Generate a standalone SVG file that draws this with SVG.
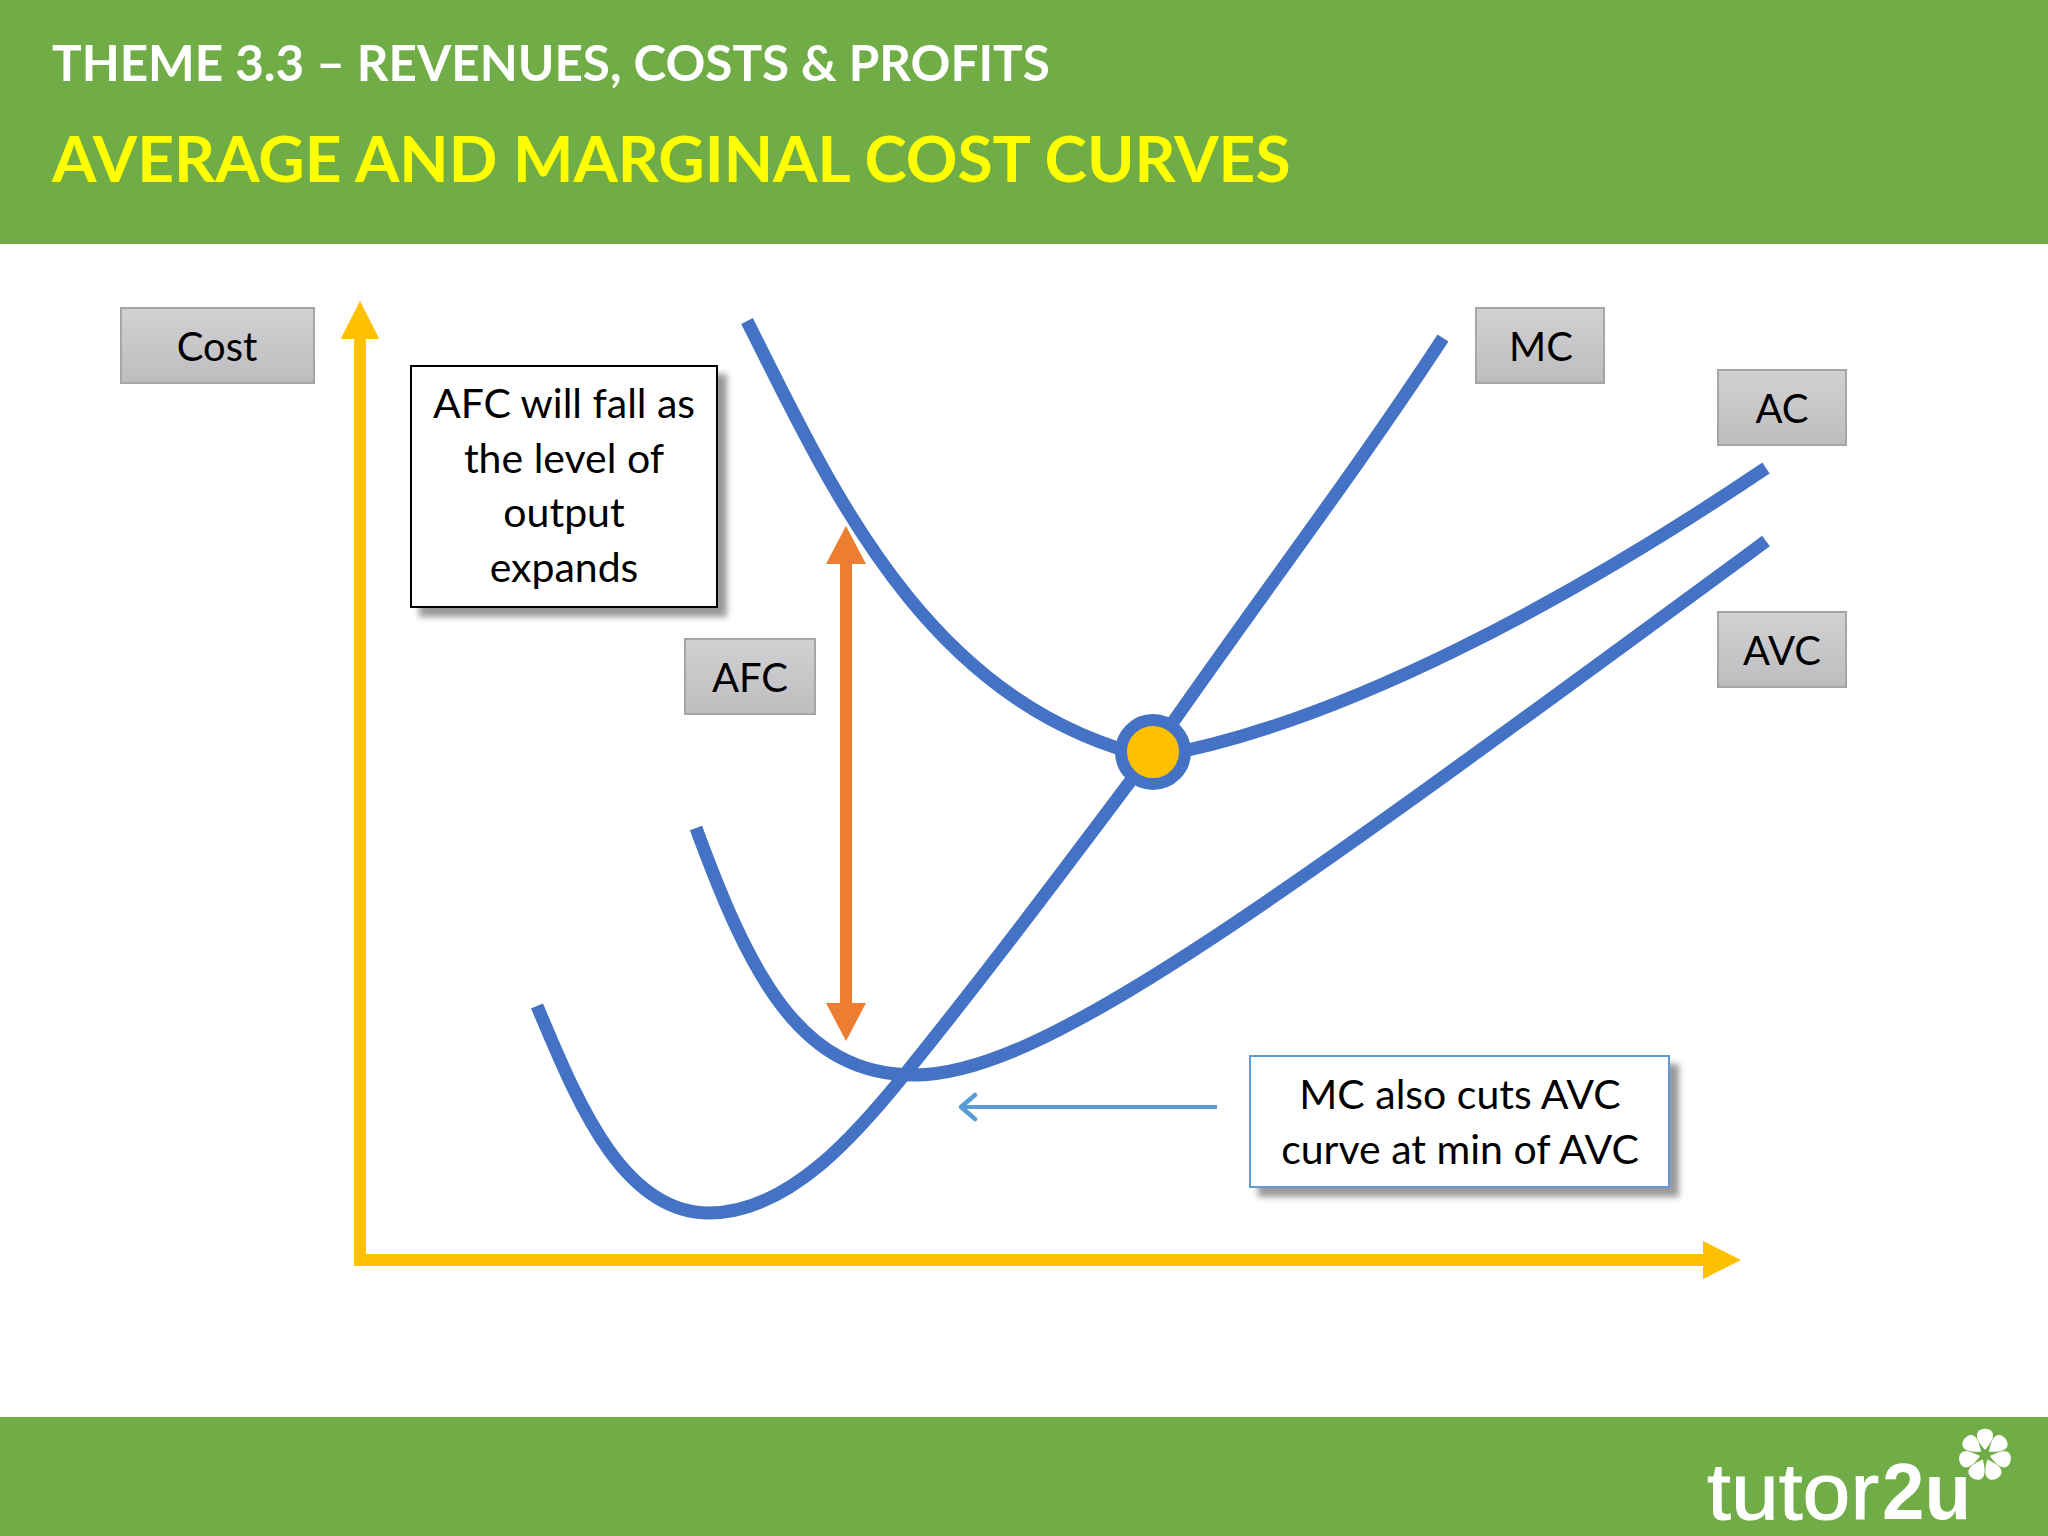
<svg xmlns="http://www.w3.org/2000/svg" xmlns:xlink="http://www.w3.org/1999/xlink" width="2048" height="1536" viewBox="0 0 2048 1536">
<defs>
<linearGradient id="grey" x1="0" y1="0" x2="0" y2="1"><stop offset="0" stop-color="#D2D0D2"/><stop offset="1" stop-color="#BDBDC0"/></linearGradient>
<filter id="sh" x="-10%" y="-10%" width="125%" height="125%"><feGaussianBlur in="SourceAlpha" stdDeviation="3"/><feOffset dx="9" dy="9"/><feComponentTransfer><feFuncA type="linear" slope="0.4"/></feComponentTransfer><feMerge><feMergeNode/><feMergeNode in="SourceGraphic"/></feMerge></filter>
<marker id="open" markerUnits="userSpaceOnUse" markerWidth="30" markerHeight="30" refX="19" refY="15" orient="auto"><path d="M5 3 L19 15 L5 27" fill="none" stroke="#5B9BD5" stroke-width="4.500" stroke-linecap="round" stroke-linejoin="round"/></marker>
<path id="petal" d="M0 -5 C-4 -10 -10 -17 -7.500 -22.500 C-5 -27.500 5 -27.500 7.500 -22.500 C10 -17 4 -10 0 -5 Z" fill="#fff"/>
</defs>
<style>
text{font-family:Lato,"Liberation Sans",sans-serif;fill:#000;font-size:41px;text-anchor:middle}
.lt{font-size:40px}
.lab{fill:url(#grey);stroke:#A6A6A6;stroke-width:2}
.curve{fill:none;stroke:#4472C4;stroke-width:13}
.t1{font-weight:700;fill:#fff;font-size:49.4px;text-anchor:start}
.t2{font-weight:700;fill:#FF0;font-size:64px;text-anchor:start}
.logo1{font-family:"Liberation Sans",sans-serif;fill:#fff;stroke:#fff;stroke-width:1;text-anchor:start;font-size:80px}
.logo2{font-family:"Liberation Sans",sans-serif;fill:#fff;text-anchor:start;font-size:80px;font-weight:700}
</style>
<rect width="2048" height="1536" fill="#fff"/>
<g id="header"><rect width="2048" height="244" fill="#70AD47"/>
<text class="t1" x="52" y="81">THEME 3.3 – REVENUES, COSTS &amp; PROFITS</text>
<text class="t2" x="52" y="182">AVERAGE AND MARGINAL COST CURVES</text></g>
<g id="footer"><rect y="1417" width="2048" height="119" fill="#70AD47"/>
<text class="logo1" x="1707" y="1519" textLength="172" lengthAdjust="spacingAndGlyphs">tutor</text>
<text class="logo2" x="1882" y="1519" textLength="89" lengthAdjust="spacingAndGlyphs">2u</text>
<g id="logo-flower" transform="translate(1985 1455)"><use xlink:href="#petal"/><use xlink:href="#petal" transform="rotate(51)"/><use xlink:href="#petal" transform="rotate(103)"/><use xlink:href="#petal" transform="rotate(154)"/><use xlink:href="#petal" transform="rotate(206)"/><use xlink:href="#petal" transform="rotate(257)"/><use xlink:href="#petal" transform="rotate(309)"/></g></g>
<g id="connectors">
<path id="y-axis" d="M354 1266 V339 H340.600 L360 301 L379.400 339 H366 V1266 Z" fill="#FFC000"/>
<path id="x-axis" d="M354 1254 H1703 V1241 L1741 1260 L1703 1279 V1266 H354 Z" fill="#FFC000"/>
<path id="mc" class="curve" d="M537 1006 C575 1095 620 1213 709 1213 C790 1213 860 1130 905 1074 C985 975 1060 875 1153 751 C1250 610 1350 480 1443 338"/>
<path id="ac-left" class="curve" d="M747 321 C830 485 925 705 1153 758"/>
<path id="ac-right" class="curve" d="M1153 757 C1340 725 1570 600 1766 468"/>
<path id="avc" class="curve" d="M696 828 C750 975 800 1075 914 1075 C1040 1075 1250 920 1766 541"/>
<path id="afc-arrow" d="M840 564 H826 L846 526 L866 564 H852 V1003 H866 L846 1041 L826 1003 H840 Z" fill="#ED7D31"/>
<line id="callout-arrow" x1="1217" y1="1107" x2="961" y2="1107" stroke="#5B9BD5" stroke-width="4" marker-end="url(#open)"/>
</g>
<g id="point"><circle cx="1153" cy="752" r="32" fill="#FFC000" stroke="#4472C4" stroke-width="12"/></g>
<g id="node-cost"><rect class="lab" x="121" y="308" width="193" height="75"/><text class="lt" x="217" y="361">Cost</text></g>
<g id="node-mc"><rect class="lab" x="1476" y="308" width="128" height="75"/><text class="lt" x="1541" y="361">MC</text></g>
<g id="node-ac"><rect class="lab" x="1718" y="370" width="128" height="75"/><text class="lt" x="1782" y="423">AC</text></g>
<g id="node-avc"><rect class="lab" x="1718" y="612" width="128" height="75"/><text class="lt" x="1782" y="665">AVC</text></g>
<g id="node-afc"><rect class="lab" x="685" y="639" width="130" height="75"/><text class="lt" x="750" y="692">AFC</text></g>
<g id="node-afc-note"><rect x="411" y="366" width="306" height="241" fill="#fff" stroke="#000" stroke-width="2" filter="url(#sh)"/>
<text x="564" y="418">AFC will fall as</text><text x="564" y="473">the level of</text><text x="564" y="527">output</text><text x="564" y="582">expands</text></g>
<g id="node-mc-note"><rect x="1250" y="1056" width="419" height="131" fill="#fff" stroke="#5B9BD5" stroke-width="2" filter="url(#sh)"/>
<text x="1460" y="1109">MC also cuts AVC</text><text x="1460" y="1164">curve at min of AVC</text></g>
</svg>
